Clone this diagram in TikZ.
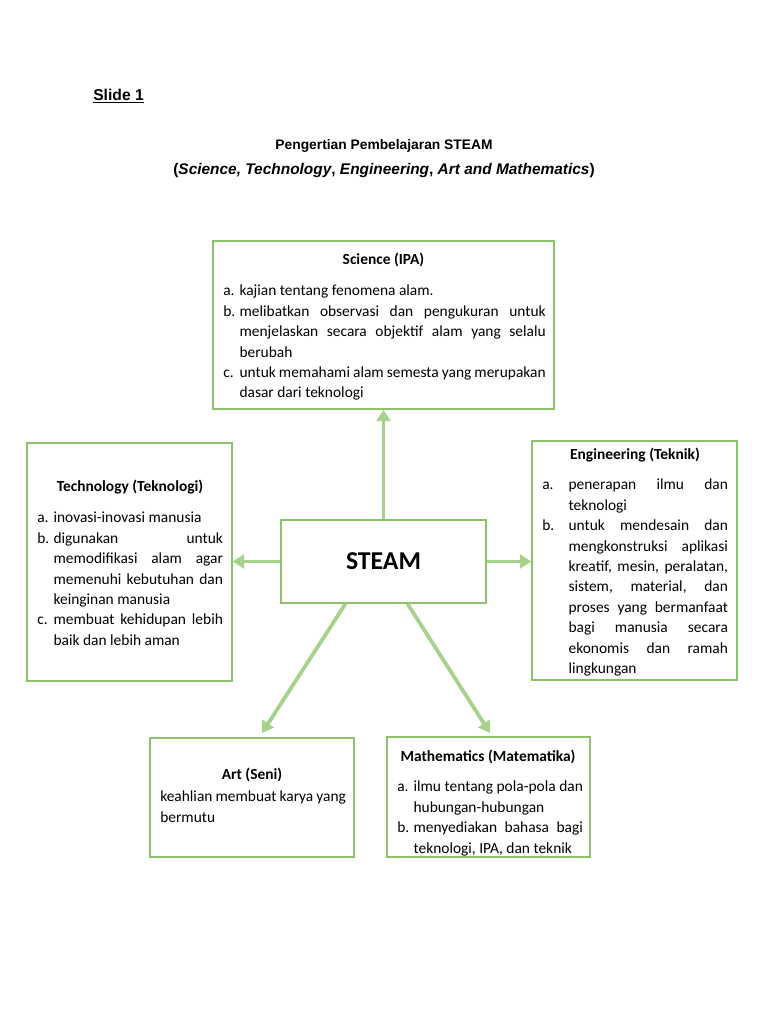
\documentclass[tikz,border=0pt]{standalone}
\usepackage{fontspec}
\setmainfont{Carlito}
\newfontfamily\arialf{Liberation Sans}
\usepackage{enumitem}
\usetikzlibrary{arrows.meta}
\definecolor{boxg}{HTML}{8CC26B}
\definecolor{arrg}{HTML}{A9D18E}
\tikzset{
  box/.style={draw=boxg,line width=1.2pt,rectangle,inner sep=0pt},
  hdr/.style={font=\fontsize{12.3pt}{14pt}\selectfont\bfseries,inner sep=0pt},
  body/.style={font=\fontsize{12.3pt}{16.3pt}\selectfont,inner sep=0pt,anchor=north west,align=justify},
  conn/.style={draw=arrg,line width=3pt,-{Triangle[length=9pt,width=11pt]}}
}
\setlist[enumerate]{label=\alph*.,nosep,leftmargin=13pt,labelindent=0pt,labelwidth=13pt,labelsep=0pt,align=left}
\newcommand{\jst}{\hyphenpenalty=10000\exhyphenpenalty=10000\emergencystretch=3em}
\begin{document}
\begin{tikzpicture}[x=0.797pt,y=-0.797pt]
\useasboundingbox[fill=white] (0,0) rectangle (768,1024);
\node[anchor=west,inner sep=0pt,font=\arialf\fontsize{12.5pt}{14pt}\selectfont\bfseries] (slide) at (93,96) {\underline{Slide 1}};
\node[inner sep=0pt,font=\arialf\fontsize{11pt}{13pt}\selectfont\bfseries] (t1) at (384,146) {Pengertian Pembelajaran STEAM};
\node[inner sep=0pt,font=\arialf\fontsize{12.3pt}{14pt}\selectfont\bfseries] (t2) at (384,171) {(\textit{Science, Technology}, \textit{Engineering}, \textit{Art and Mathematics})};

% boxes
\node[box,minimum width=341*0.797pt,minimum height=168*0.797pt] (sci) at (383.5,325) {};
\node[box,minimum width=205*0.797pt,minimum height=238*0.797pt] (tech) at (129.5,562) {};
\node[box,minimum width=205*0.797pt,minimum height=83*0.797pt,font=\fontsize{20.5pt}{22pt}\selectfont\bfseries] (steam) at (383.5,561.5) {STEAM};
\node[box,minimum width=205*0.797pt,minimum height=239*0.797pt] (eng) at (634.5,560.5) {};
\node[box,minimum width=204*0.797pt,minimum height=119*0.797pt] (art) at (252,797.5) {};
\node[box,minimum width=203*0.797pt,minimum height=120*0.797pt] (math) at (488.5,797) {};

% headers
\node[hdr] (scih) at (383.5,260) {Science (IPA)};
\node[hdr] (techh) at (130,487) {Technology (Teknologi)};
\node[hdr] (engh) at (635,455) {Engineering (Teknik)};
\node[hdr] (arth) at (252,775) {Art (Seni)};
\node[hdr] (mathh) at (488,757) {Mathematics (Matematika)};

% bodies
\node[body,text width=257pt] (scib) at (223,275) {\jst
\begin{enumerate}
\item kajian tentang fenomena alam.
\item melibatkan observasi dan pengukuran untuk menjelaskan secara objektif alam yang selalu berubah
\item untuk memahami alam semesta yang merupakan dasar dari teknologi
\end{enumerate}};
\node[body,text width=148pt] (techb) at (37,502) {\jst
\begin{enumerate}
\item inovasi-inovasi manusia
\item digunakan untuk memodifikasi alam agar memenuhi kebutuhan dan keinginan manusia
\item membuat kehidupan lebih baik dan lebih aman
\end{enumerate}};
\node[body,text width=148pt] (engb) at (542,469) {\jst
\begin{enumerate}[leftmargin=21pt,labelwidth=21pt]
\item penerapan ilmu dan teknologi
\item untuk mendesain dan mengkonstruksi aplikasi kreatif, mesin, peralatan, sistem, material, dan proses yang bermanfaat bagi manusia secara ekonomis dan ramah lingkungan
\end{enumerate}};
\node[body,text width=148pt] (artb) at (160,791) {\jst keahlian membuat karya yang bermutu};
\node[body,text width=148pt] (mathb) at (397,771) {\jst
\begin{enumerate}
\item ilmu tentang pola-pola dan hubungan-hubungan
\item menyediakan bahasa bagi teknologi, IPA, dan teknik
\end{enumerate}};

% connectors
\draw[conn] (steam.north) -- (sci.south);
\draw[conn] (steam.west) -- (steam.west -| tech.east);
\draw[conn] (steam.east) -- (steam.east -| eng.west);
\coordinate (al) at (262,733);
\coordinate (ar) at (490,733);
\draw[conn] ([xshift=-38*0.797pt]steam.south) -- (al);
\draw[conn] ([xshift=24*0.797pt]steam.south) -- (ar);
\end{tikzpicture}
\end{document}
